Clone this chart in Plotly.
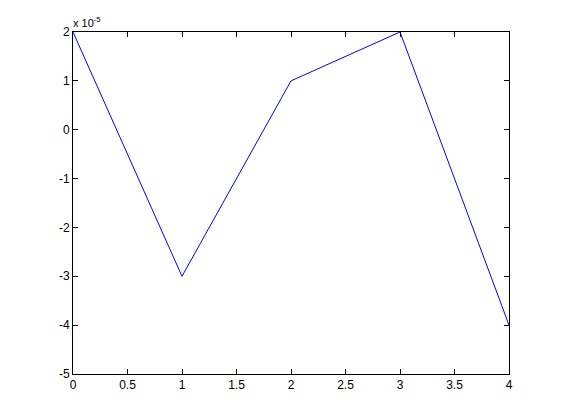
import plotly.graph_objects as go

x_vals = [0, 1, 2, 3, 4]
y_vals = [2e-5, -3e-5, 1e-5, 2e-5, -4e-5]
scale_exp = -5
x_ticks = [0, 0.5, 1, 1.5, 2, 2.5, 3, 3.5, 4]
x_ticktext = ["0", "0.5", "1", "1.5", "2", "2.5", "3", "3.5", "4"]
y_ticks_scaled = [-5, -4, -3, -2, -1, 0, 1, 2]

scale = 10 ** scale_exp
y_tickvals = [v * scale for v in y_ticks_scaled]
y_ticktext = [str(v) for v in y_ticks_scaled]

font = dict(family="Liberation Sans, Arial, sans-serif", size=12, color="black")

fig = go.Figure()
fig.add_trace(go.Scatter(x=x_vals, y=y_vals, mode="lines",
                         line=dict(color="#0000FF", width=1)))

axis_common = dict(showgrid=False, zeroline=False, showline=True, linecolor="black",
                   linewidth=1, mirror="ticks", ticks="inside", ticklen=5,
                   tickcolor="black", tickfont=font)

fig.update_layout(
    width=561, height=420,
    margin=dict(l=65, r=60, t=24, b=54),
    paper_bgcolor="white", plot_bgcolor="white",
    showlegend=False,
    xaxis=dict(range=[0, 4], tickvals=x_ticks, ticktext=x_ticktext, **axis_common),
    yaxis=dict(range=[-5 * scale, 2 * scale], tickvals=y_tickvals, ticktext=y_ticktext,
               **axis_common),
    annotations=[dict(xref="paper", yref="paper", x=0, y=1, xanchor="left", yanchor="bottom",
                      xshift=-2, yshift=1, showarrow=False,
                      text="x 10<sup>-5</sup>", font=dict(family=font["family"], size=11, color="black"))],
)

fig.write_html("out.html")
